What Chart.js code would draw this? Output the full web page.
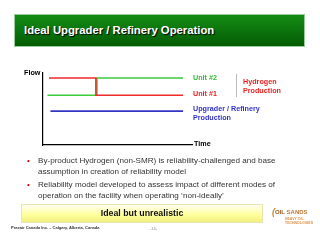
<!DOCTYPE html>
<html lang="en">
<head>
<meta charset="UTF-8">
<title>Ideal Upgrader / Refinery Operation</title>
<script src="https://cdn.jsdelivr.net/npm/chart.js"></script>
<style>
  body { margin: 0; width: 320px; height: 247px; background: #fff; position: relative; overflow: hidden;
         font-family: "Liberation Sans", Arial, sans-serif; }
  .abs { position: absolute; white-space: nowrap; }
  #banner { left: 14px; top: 14px; width: 291px; height: 33px; background: linear-gradient(#148c14, #045c04);
            border: 1px solid #9c9; box-sizing: border-box; }
  #title { left: 24px; top: 24px; font-size: 11.3px; font-weight: bold; color: #fff; text-shadow: 1px 1px 1px #000; }
  #chartBox { left: 0; top: 60px; width: 320px; height: 95px; }
  .lbl { font-size: 7.2px; font-weight: bold; line-height: 8.5px; }
  .bul { font-size: 8.1px; color: #333; line-height: 11px; }
  .dot { color: #c00; font-size: 8px; }
  #yellow { left: 21px; top: 204px; width: 242px; height: 19px; background: linear-gradient(#fffff0, #ffff99 60%, #f2ee80);
            border: 1px solid #e8e6b0; box-sizing: border-box; text-align: center; font-weight: bold; font-size: 8.8px; line-height: 17px; color: #111; }
</style>
</head>
<body>
<div id="banner" class="abs"></div>
<div id="title" class="abs">Ideal Upgrader / Refinery Operation</div>

<div id="chartBox" class="abs"><canvas id="flowChart" width="320" height="95"></canvas></div>

<div class="abs lbl" style="left:24px;top:69px;color:#000">Flow</div>
<div class="abs lbl" style="left:194px;top:140px;color:#000">Time</div>
<div class="abs lbl" style="left:193px;top:74px;color:#33bb33">Unit #2</div>
<div class="abs lbl" style="left:193px;top:90px;color:#ee2222">Unit #1</div>
<div class="abs" style="left:236px;top:74px;width:2px;height:23px;border-left:1px solid #bbb;"></div>
<div class="abs lbl" style="left:243px;top:78px;color:#ee2222">Hydrogen<br>Production</div>
<div class="abs lbl" style="left:193px;top:105px;color:#3333cc">Upgrader / Refinery<br>Production</div>

<div class="abs bul" style="left:27px;top:155px"><span class="dot">•</span></div>
<div class="abs bul" style="left:38px;top:155px">By-product Hydrogen (non-SMR) is reliability-challenged and base<br>assumption in creation of reliability model</div>
<div class="abs bul" style="left:27px;top:179px"><span class="dot">•</span></div>
<div class="abs bul" style="left:38px;top:179px">Reliability model developed to assess impact of different modes of<br>operation on the facility when operating ‘non-ideally’</div>

<div id="yellow" class="abs">Ideal but unrealistic</div>
<div class="abs" style="left:11px;top:225px;font-size:4px;font-weight:bold;color:#333">Praxair Canada Inc. – Calgary, Alberta, Canada</div>
<div class="abs" style="left:150px;top:226px;font-size:4px;color:#888">-14-</div>

<div class="abs" style="left:272px;top:207px;font-size:9px;font-weight:bold;color:#c8862a;font-style:italic">(</div>
<div class="abs" style="left:275px;top:209px;font-size:6px;font-weight:bold;color:#9a5a22">OIL<span style="color:#b87a3a"> SANDS</span></div>
<div class="abs" style="left:285px;top:217px;font-size:3.5px;font-weight:bold;color:#e0904a;line-height:4px">HEAVY OIL<br>TECHNOLOGIES</div>

<script>
// flow vs time (arbitrary units 0-10)
var unit1Time = [0.4, 3.55, 3.55, 9.4];
var unit1Flow = [9.3, 9.3, 6.9, 6.9];
var unit2Time = [0.3, 3.62, 3.62, 9.4];
var unit2Flow = [6.9, 6.9, 9.3, 9.3];
var upgraderTime = [0.5, 9.4];
var upgraderFlow = [4.7, 4.7];

function pts(xs, ys) {
    return xs.map(function(x, i) { return { x: x, y: ys[i] }; });
}

var ctx = document.getElementById('flowChart').getContext('2d');
new Chart(ctx, {
    type: 'line',
    data: {
        datasets: [{
            label: 'Unit #1',
            data: pts(unit1Time, unit1Flow),
            borderColor: '#f22a2a',
            borderWidth: 1.6
        }, {
            label: 'Unit #2',
            data: pts(unit2Time, unit2Flow),
            borderColor: '#3ccc3c',
            borderWidth: 1.6
        }, {
            label: 'Upgrader / Refinery Production',
            data: pts(upgraderTime, upgraderFlow),
            borderColor: '#3434c4',
            borderWidth: 1.6
        }]
    },
    options: {
        responsive: false,
        animation: false,
        layout: { padding: { left: 43, right: 128, top: 13, bottom: 10 } },
        elements: { point: { radius: 0 }, line: { tension: 0 } },
        plugins: { legend: { display: false }, tooltip: { enabled: false } },
        scales: {
            x: {
                type: 'linear', min: 0, max: 10,
                ticks: { display: false },
                grid: { display: false, drawTicks: false },
                border: { color: '#000', width: 1.2 }
            },
            y: {
                min: 0, max: 10,
                ticks: { display: false },
                grid: { display: false, drawTicks: false },
                border: { color: '#000', width: 1.2 }
            }
        }
    }
});
</script>
</body>
</html>
